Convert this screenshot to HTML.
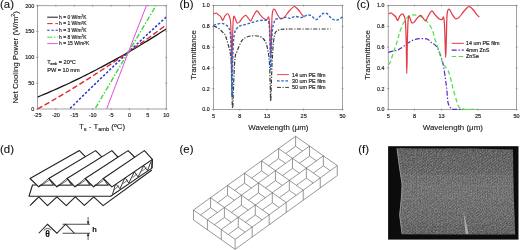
<!DOCTYPE html>
<html><head><meta charset="utf-8"><title>Figure</title>
<style>html,body{margin:0;padding:0;background:#fff;overflow:hidden}svg{display:block}text{font-family:"Liberation Sans",Arial,sans-serif}text{stroke:#1c1c1c;stroke-width:0.12px}.s{stroke:#1c1c1c;stroke-width:0.17px}</style></head>
<body><svg width="520" height="250" viewBox="0 0 520 250">
<rect width="520" height="250" fill="#fff"/>
<clipPath id="ca"><rect x="37.5" y="5.7" width="128.75" height="103.3"/></clipPath>
<rect x="37.5" y="5.7" width="128.75" height="103.3" fill="none" stroke="#8a8a8a" stroke-width="0.8"/>
<path d="M37.50,108.0 v2.2 M37.50,4.7 v2 M55.89,108.0 v2.2 M55.89,4.7 v2 M74.29,108.0 v2.2 M74.29,4.7 v2 M92.68,108.0 v2.2 M92.68,4.7 v2 M111.07,108.0 v2.2 M111.07,4.7 v2 M129.46,108.0 v2.2 M129.46,4.7 v2 M147.86,108.0 v2.2 M147.86,4.7 v2 M166.25,108.0 v2.2 M166.25,4.7 v2 M36.1,109.00 h2.4 M165.25,109.00 h2 M36.1,83.17 h2.4 M165.25,83.17 h2 M36.1,57.35 h2.4 M165.25,57.35 h2 M36.1,31.53 h2.4 M165.25,31.53 h2 M36.1,5.70 h2.4 M165.25,5.70 h2" stroke="#8a8a8a" stroke-width="0.7" fill="none"/>
<g clip-path="url(#ca)" fill="none">
<path d="M37.50,97.12 L40.72,95.79 L43.94,94.44 L47.16,93.07 L50.38,91.68 L53.59,90.27 L56.81,88.85 L60.03,87.40 L63.25,85.93 L66.47,84.45 L69.69,82.95 L72.91,81.42 L76.12,79.88 L79.34,78.32 L82.56,76.74 L85.78,75.14 L89.00,73.52 L92.22,71.89 L95.44,70.23 L98.66,68.55 L101.88,66.86 L105.09,65.14 L108.31,63.41 L111.53,61.66 L114.75,59.89 L117.97,58.10 L121.19,56.29 L124.41,54.46 L127.62,52.61 L130.84,50.74 L134.06,48.86 L137.28,46.95 L140.50,45.03 L143.72,43.08 L146.94,41.12 L150.16,39.14 L153.38,37.14 L156.59,35.12 L159.81,33.08 L163.03,31.02 L166.25,28.94" stroke="#151515" stroke-width="1.25"/>
<path d="M37.50,109.00 L40.72,107.20 L43.94,105.38 L47.16,103.55 L50.38,101.71 L53.59,99.84 L56.81,97.97 L60.03,96.07 L63.25,94.16 L66.47,92.24 L69.69,90.30 L72.91,88.34 L76.12,86.37 L79.34,84.38 L82.56,82.38 L85.78,80.36 L89.00,78.33 L92.22,76.28 L95.44,74.21 L98.66,72.13 L101.88,70.03 L105.09,67.92 L108.31,65.79 L111.53,63.65 L114.75,61.49 L117.97,59.31 L121.19,57.12 L124.41,54.92 L127.62,52.70 L130.84,50.46 L134.06,48.20 L137.28,45.94 L140.50,43.65 L143.72,41.35 L146.94,39.03 L150.16,36.70 L153.38,34.36 L156.59,31.99 L159.81,29.61 L163.03,27.22 L166.25,24.81" stroke="#e0262a" stroke-width="1.4" stroke-dasharray="5.5 2.6"/>
<path d="M37.50,141.05 L40.72,137.79 L43.94,134.53 L47.16,131.29 L50.38,128.06 L53.59,124.83 L56.81,121.61 L60.03,118.40 L63.25,115.20 L66.47,112.00 L69.69,108.82 L72.91,105.64 L76.12,102.47 L79.34,99.31 L82.56,96.16 L85.78,93.01 L89.00,89.88 L92.22,86.75 L95.44,83.63 L98.66,80.52 L101.88,77.41 L105.09,74.32 L108.31,71.23 L111.53,68.15 L114.75,65.08 L117.97,62.02 L121.19,58.96 L124.41,55.92 L127.62,52.88 L130.84,49.85 L134.06,46.83 L137.28,43.81 L140.50,40.81 L143.72,37.81 L146.94,34.82 L150.16,31.84 L153.38,28.87 L156.59,25.91 L159.81,22.95 L163.03,20.00 L166.25,17.06" stroke="#2535c8" stroke-width="1.5" stroke-dasharray="2.4 1.8"/>
<path d="M85.32,125.32 L87.25,122.02 L89.18,118.72 L91.12,115.43 L93.05,112.13 L94.98,108.84 L96.91,105.55 L98.84,102.26 L100.77,98.98 L102.70,95.69 L104.63,92.41 L106.57,89.13 L108.50,85.84 L110.43,82.57 L112.36,79.29 L114.29,76.01 L116.22,72.74 L118.15,69.46 L120.08,66.19 L122.02,62.92 L123.95,59.65 L125.88,56.38 L127.81,53.12 L129.74,49.85 L131.67,46.59 L133.60,43.33 L135.53,40.07 L137.47,36.81 L139.40,33.55 L141.33,30.30 L143.26,27.04 L145.19,23.79 L147.12,20.54 L149.05,17.29 L150.98,14.04 L152.92,10.80 L154.85,7.55 L156.78,4.31 L158.71,1.07 L160.64,-2.17 L162.57,-5.41" stroke="#3cd83c" stroke-width="1.4" stroke-dasharray="5 1.8 1.5 1.8"/>
<path d="M100.04,126.52 L101.42,122.86 L102.79,119.21 L104.17,115.56 L105.55,111.91 L106.93,108.27 L108.31,104.63 L109.69,101.00 L111.07,97.37 L112.45,93.74 L113.83,90.12 L115.21,86.50 L116.59,82.89 L117.97,79.27 L119.35,75.67 L120.73,72.06 L122.11,68.46 L123.49,64.86 L124.87,61.27 L126.25,57.68 L127.62,54.10 L129.00,50.51 L130.38,46.94 L131.76,43.36 L133.14,39.79 L134.52,36.22 L135.90,32.66 L137.28,29.10 L138.66,25.54 L140.04,21.99 L141.42,18.44 L142.80,14.90 L144.18,11.36 L145.56,7.82 L146.94,4.29 L148.32,0.76 L149.70,-2.77 L151.08,-6.29 L152.46,-9.81 L153.83,-13.33 L155.21,-16.84" stroke="#e048e0" stroke-width="1.0"/>
</g>
<text x="37.50" y="117.2" class="s" font-size="5.5" text-anchor="middle" fill="#1c1c1c">-25</text>
<text x="55.89" y="117.2" class="s" font-size="5.5" text-anchor="middle" fill="#1c1c1c">-20</text>
<text x="74.29" y="117.2" class="s" font-size="5.5" text-anchor="middle" fill="#1c1c1c">-15</text>
<text x="92.68" y="117.2" class="s" font-size="5.5" text-anchor="middle" fill="#1c1c1c">-10</text>
<text x="111.07" y="117.2" class="s" font-size="5.5" text-anchor="middle" fill="#1c1c1c">-5</text>
<text x="129.46" y="117.2" class="s" font-size="5.5" text-anchor="middle" fill="#1c1c1c">0</text>
<text x="147.86" y="117.2" class="s" font-size="5.5" text-anchor="middle" fill="#1c1c1c">5</text>
<text x="166.25" y="117.2" class="s" font-size="5.5" text-anchor="middle" fill="#1c1c1c">10</text>
<text x="34.4" y="110.90" class="s" font-size="5.5" text-anchor="end" fill="#1c1c1c">0</text>
<text x="34.4" y="85.08" class="s" font-size="5.5" text-anchor="end" fill="#1c1c1c">50</text>
<text x="34.4" y="59.25" class="s" font-size="5.5" text-anchor="end" fill="#1c1c1c">100</text>
<text x="34.4" y="33.43" class="s" font-size="5.5" text-anchor="end" fill="#1c1c1c">150</text>
<text x="34.4" y="7.60" class="s" font-size="5.5" text-anchor="end" fill="#1c1c1c">200</text>
<text transform="translate(17.6,57.4) rotate(-90) scale(1.075,1)" font-size="7.35" text-anchor="middle" fill="#1c1c1c">Net Cooling Power (W/m<tspan font-size="4.8" dy="-2.6">2</tspan><tspan dy="2.6">)</tspan></text>
<text transform="translate(102,129.2) scale(1.075,1)" font-size="7.35" text-anchor="middle" fill="#1c1c1c">T<tspan font-size="5.2" dy="1.8">s</tspan><tspan dy="-1.8"> - T</tspan><tspan font-size="5.2" dy="1.8">amb</tspan><tspan dy="-1.8"> (</tspan><tspan font-size="4.6" dy="-2.6">o</tspan><tspan dy="2.6">C)</tspan></text>
<text x="0" y="8.0" font-size="11.4" fill="#111">(a)</text>
<path d="M47.2,17.2 H57.9" stroke="#151515" stroke-width="1.0" fill="none"/>
<text x="59.1" y="19.00" class="s" font-size="4.9" fill="#1c1c1c">h = 0 W/m<tspan font-size="3.2" dy="-1.7">2</tspan><tspan dy="1.7">K</tspan></text>
<path d="M47.2,23.6 H57.9" stroke="#e0262a" stroke-width="1.0" stroke-dasharray="5.5 2.6" fill="none"/>
<text x="59.1" y="25.40" class="s" font-size="4.9" fill="#1c1c1c">h = 1 W/m<tspan font-size="3.2" dy="-1.7">2</tspan><tspan dy="1.7">K</tspan></text>
<path d="M47.2,30.3 H57.9" stroke="#2535c8" stroke-width="1.1" stroke-dasharray="2.4 1.8" fill="none"/>
<text x="59.1" y="32.10" class="s" font-size="4.9" fill="#1c1c1c">h = 3 W/m<tspan font-size="3.2" dy="-1.7">2</tspan><tspan dy="1.7">K</tspan></text>
<path d="M47.2,37.2 H57.9" stroke="#3cd83c" stroke-width="1.0" stroke-dasharray="5 1.8 1.5 1.8" fill="none"/>
<text x="59.1" y="39.00" class="s" font-size="4.9" fill="#1c1c1c">h = 8 W/m<tspan font-size="3.2" dy="-1.7">2</tspan><tspan dy="1.7">K</tspan></text>
<path d="M47.2,43.6 H57.9" stroke="#e048e0" stroke-width="0.9" fill="none"/>
<text x="59.1" y="45.40" class="s" font-size="4.9" fill="#1c1c1c">h = 15 W/m<tspan font-size="3.2" dy="-1.7">2</tspan><tspan dy="1.7">K</tspan></text>
<text x="47.2" y="63.6" class="s" font-size="5.6" fill="#1c1c1c">T<tspan font-size="3.4" dy="1.2">amb</tspan><tspan dy="-1.2"> = 20</tspan><tspan font-size="3.4" dy="-1.9">o</tspan><tspan dy="1.9">C</tspan></text>
<text x="47.2" y="71.9" class="s" font-size="5.6" fill="#1c1c1c">PW = 10 mm</text>
<rect x="213.5" y="5.6" width="129.0" height="103.9" fill="none" stroke="#8a8a8a" stroke-width="0.8"/>
<text x="213.50" y="117.5" class="s" font-size="5.5" text-anchor="middle" fill="#1c1c1c">5</text>
<text x="239.83" y="117.5" class="s" font-size="5.5" text-anchor="middle" fill="#1c1c1c">8</text>
<text x="267.03" y="117.5" class="s" font-size="5.5" text-anchor="middle" fill="#1c1c1c">13</text>
<text x="303.67" y="117.5" class="s" font-size="5.5" text-anchor="middle" fill="#1c1c1c">25</text>
<text x="342.50" y="117.5" class="s" font-size="5.5" text-anchor="middle" fill="#1c1c1c">50</text>
<text x="209.7" y="111.35" class="s" font-size="5.3" text-anchor="end" fill="#1c1c1c">0.0</text>
<text x="209.7" y="90.57" class="s" font-size="5.3" text-anchor="end" fill="#1c1c1c">0.2</text>
<text x="209.7" y="69.79" class="s" font-size="5.3" text-anchor="end" fill="#1c1c1c">0.4</text>
<text x="209.7" y="49.01" class="s" font-size="5.3" text-anchor="end" fill="#1c1c1c">0.6</text>
<text x="209.7" y="28.23" class="s" font-size="5.3" text-anchor="end" fill="#1c1c1c">0.8</text>
<text x="209.7" y="7.45" class="s" font-size="5.3" text-anchor="end" fill="#1c1c1c">1.0</text>
<path d="M213.50,108.5 v2.2 M213.50,4.6 v2 M239.83,108.5 v2.2 M239.83,4.6 v2 M267.03,108.5 v2.2 M267.03,4.6 v2 M303.67,108.5 v2.2 M303.67,4.6 v2 M342.50,108.5 v2.2 M342.50,4.6 v2 M212.1,109.50 h2.4 M341.5,109.50 h2 M212.1,88.72 h2.4 M341.5,88.72 h2 M212.1,67.94 h2.4 M341.5,67.94 h2 M212.1,47.16 h2.4 M341.5,47.16 h2 M212.1,26.38 h2.4 M341.5,26.38 h2 M212.1,5.60 h2.4 M341.5,5.60 h2" stroke="#8a8a8a" stroke-width="0.7" fill="none"/>
<text transform="translate(195.6,54.9) rotate(-90) scale(1.07,1)" font-size="7.35" text-anchor="middle" fill="#1c1c1c">Transmittance</text>
<text transform="translate(278.40,129.5) scale(1.07,1)" font-size="7.4" text-anchor="middle" fill="#1c1c1c">Wavelength (μm)</text>
<text x="179.5" y="8.2" font-size="11.4" fill="#111">(b)</text>
<rect x="388.25" y="5.6" width="128.35000000000002" height="103.9" fill="none" stroke="#8a8a8a" stroke-width="0.8"/>
<text x="388.25" y="117.5" class="s" font-size="5.5" text-anchor="middle" fill="#1c1c1c">5</text>
<text x="414.45" y="117.5" class="s" font-size="5.5" text-anchor="middle" fill="#1c1c1c">8</text>
<text x="441.51" y="117.5" class="s" font-size="5.5" text-anchor="middle" fill="#1c1c1c">13</text>
<text x="477.96" y="117.5" class="s" font-size="5.5" text-anchor="middle" fill="#1c1c1c">25</text>
<text x="516.60" y="117.5" class="s" font-size="5.5" text-anchor="middle" fill="#1c1c1c">50</text>
<text x="384.45" y="111.35" class="s" font-size="5.3" text-anchor="end" fill="#1c1c1c">0.0</text>
<text x="384.45" y="90.57" class="s" font-size="5.3" text-anchor="end" fill="#1c1c1c">0.2</text>
<text x="384.45" y="69.79" class="s" font-size="5.3" text-anchor="end" fill="#1c1c1c">0.4</text>
<text x="384.45" y="49.01" class="s" font-size="5.3" text-anchor="end" fill="#1c1c1c">0.6</text>
<text x="384.45" y="28.23" class="s" font-size="5.3" text-anchor="end" fill="#1c1c1c">0.8</text>
<text x="384.45" y="7.45" class="s" font-size="5.3" text-anchor="end" fill="#1c1c1c">1.0</text>
<path d="M388.25,108.5 v2.2 M388.25,4.6 v2 M414.45,108.5 v2.2 M414.45,4.6 v2 M441.51,108.5 v2.2 M441.51,4.6 v2 M477.96,108.5 v2.2 M477.96,4.6 v2 M516.60,108.5 v2.2 M516.60,4.6 v2 M386.85,109.50 h2.4 M515.6,109.50 h2 M386.85,88.72 h2.4 M515.6,88.72 h2 M386.85,67.94 h2.4 M515.6,67.94 h2 M386.85,47.16 h2.4 M515.6,47.16 h2 M386.85,26.38 h2.4 M515.6,26.38 h2 M386.85,5.60 h2.4 M515.6,5.60 h2" stroke="#8a8a8a" stroke-width="0.7" fill="none"/>
<text transform="translate(370.35,54.9) rotate(-90) scale(1.07,1)" font-size="7.35" text-anchor="middle" fill="#1c1c1c">Transmittance</text>
<text transform="translate(452.82,129.5) scale(1.07,1)" font-size="7.4" text-anchor="middle" fill="#1c1c1c">Wavelength (μm)</text>
<text x="356.4" y="8.2" font-size="11.4" fill="#111">(c)</text>
<g fill="none" stroke-linejoin="round">
<path d="M213.50,26.20 C213.75,26.25 214.12,26.13 215.00,26.50 C215.88,26.87 217.50,27.47 218.75,28.40 C220.00,29.33 221.56,31.25 222.50,32.10 C223.44,32.95 223.78,32.52 224.40,33.50 C225.03,34.48 225.63,36.21 226.25,38.00 C226.87,39.79 227.47,41.96 228.10,44.25 C228.72,46.54 229.47,48.79 230.00,51.75 C230.53,54.71 230.93,56.46 231.25,62.00 C231.57,67.54 231.72,77.75 231.90,85.00 C232.08,92.25 232.13,102.08 232.30,105.50 C232.47,108.92 232.68,108.92 232.90,105.50 C233.12,102.08 233.25,92.92 233.60,85.00 C233.95,77.08 234.45,63.54 235.00,58.00 C235.55,52.46 236.17,53.83 236.90,51.75 C237.63,49.67 238.47,47.48 239.40,45.50 C240.33,43.52 241.15,41.36 242.50,39.90 C243.85,38.44 245.62,37.44 247.50,36.75 C249.38,36.06 251.67,35.79 253.75,35.75 C255.83,35.71 258.33,35.92 260.00,36.50 C261.67,37.08 262.71,38.07 263.75,39.25 C264.79,40.43 265.52,41.52 266.25,43.60 C266.98,45.68 267.58,48.68 268.10,51.75 C268.62,54.82 269.05,56.46 269.40,62.00 C269.75,67.54 269.98,78.50 270.20,85.00 C270.42,91.50 270.52,101.00 270.70,101.00 C270.88,101.00 271.05,91.83 271.30,85.00 C271.55,78.17 271.83,67.17 272.20,60.00 C272.57,52.83 273.03,46.43 273.50,42.00 C273.97,37.57 274.43,35.25 275.00,33.40 C275.57,31.55 276.07,31.53 276.90,30.90 C277.73,30.27 279.07,29.88 280.00,29.60 C280.93,29.33 280.83,29.35 282.50,29.25 C284.17,29.15 285.42,29.04 290.00,29.00 C294.58,28.96 303.23,29.00 310.00,29.00 C316.77,29.00 327.17,29.00 330.60,29.00" stroke="#3a3a3a" stroke-width="1.2" stroke-dasharray="4 1.5 1.2 1.5"/>
<path d="M213.50,14.00 C213.96,13.83 215.47,12.90 216.25,13.00 C217.03,13.10 217.47,14.02 218.20,14.60 C218.92,15.18 219.88,15.55 220.60,16.50 C221.32,17.45 221.97,19.97 222.50,20.30 C223.03,20.63 223.38,19.23 223.80,18.50 C224.22,17.77 224.38,16.68 225.00,15.90 C225.62,15.12 226.77,13.70 227.50,13.80 C228.23,13.90 228.88,15.05 229.40,16.50 C229.92,17.95 230.27,17.75 230.60,22.50 C230.93,27.25 231.18,36.50 231.40,45.00 C231.62,53.50 231.73,73.50 231.90,73.50 C232.07,73.50 232.22,53.25 232.40,45.00 C232.58,36.75 232.78,28.75 233.00,24.00 C233.22,19.25 233.42,17.53 233.75,16.50 C234.08,15.47 234.47,16.75 235.00,17.80 C235.53,18.85 236.17,22.08 236.90,22.80 C237.63,23.52 238.47,22.93 239.40,22.10 C240.33,21.27 241.47,18.93 242.50,17.80 C243.53,16.67 244.77,15.42 245.60,15.30 C246.43,15.18 246.67,16.17 247.50,17.10 C248.33,18.03 249.67,21.00 250.60,20.90 C251.53,20.80 252.05,18.17 253.10,16.50 C254.15,14.83 255.75,11.22 256.90,10.90 C258.05,10.58 258.86,13.35 260.00,14.60 C261.14,15.85 262.60,17.57 263.75,18.40 C264.90,19.23 266.09,19.83 266.90,19.60 C267.71,19.37 268.15,16.10 268.60,17.00 C269.05,17.90 269.32,20.33 269.60,25.00 C269.88,29.67 270.10,39.60 270.30,45.00 C270.50,50.40 270.63,57.40 270.80,57.40 C270.97,57.40 271.12,51.23 271.30,45.00 C271.48,38.77 271.68,25.58 271.90,20.00 C272.12,14.42 272.18,13.29 272.60,11.50 C273.02,9.71 273.58,8.73 274.40,9.25 C275.22,9.77 276.47,13.02 277.50,14.60 C278.53,16.18 279.45,18.33 280.60,18.75 C281.75,19.17 283.04,18.31 284.40,17.10 C285.76,15.89 287.30,13.17 288.75,11.50 C290.20,9.83 292.06,7.89 293.10,7.10 C294.14,6.31 294.06,6.22 295.00,6.75 C295.94,7.28 297.60,8.94 298.75,10.25 C299.90,11.56 300.96,13.46 301.90,14.60 C302.84,15.74 303.98,16.68 304.40,17.10" stroke="#e23a48" stroke-width="1.15"/>
<path d="M213.50,25.30 C214.17,25.08 216.10,24.32 217.50,24.00 C218.90,23.68 220.44,23.19 221.90,23.40 C223.36,23.61 225.11,24.52 226.25,25.25 C227.39,25.98 228.06,26.29 228.75,27.75 C229.44,29.21 229.97,28.62 230.40,34.00 C230.83,39.38 231.03,49.50 231.30,60.00 C231.57,70.50 231.77,97.00 232.00,97.00 C232.23,97.00 232.43,69.50 232.70,60.00 C232.97,50.50 233.22,44.75 233.60,40.00 C233.98,35.25 234.45,33.43 235.00,31.50 C235.55,29.57 236.07,29.33 236.90,28.40 C237.73,27.47 238.65,26.53 240.00,25.90 C241.35,25.27 243.12,25.12 245.00,24.60 C246.88,24.08 249.17,23.37 251.25,22.75 C253.33,22.13 255.42,21.32 257.50,20.90 C259.58,20.48 262.08,20.25 263.75,20.25 C265.42,20.25 266.57,19.94 267.50,20.90 C268.43,21.86 268.85,21.15 269.30,26.00 C269.75,30.85 269.97,42.75 270.20,50.00 C270.43,57.25 270.52,69.50 270.70,69.50 C270.88,69.50 271.02,56.58 271.30,50.00 C271.58,43.42 271.88,34.75 272.40,30.00 C272.92,25.25 273.76,23.33 274.40,21.50 C275.04,19.67 275.11,19.52 276.25,19.00 C277.39,18.48 279.58,18.72 281.25,18.40 C282.92,18.08 284.79,17.10 286.25,17.10 C287.71,17.10 288.54,18.50 290.00,18.40 C291.46,18.30 293.12,16.65 295.00,16.50 C296.88,16.35 299.68,17.54 301.25,17.50 C302.82,17.46 303.36,16.67 304.40,16.25 C305.44,15.83 306.36,15.11 307.50,15.00 C308.64,14.89 310.10,14.97 311.25,15.60 C312.40,16.23 313.46,18.12 314.40,18.75 C315.34,19.38 315.97,19.82 316.90,19.40 C317.83,18.98 318.97,17.23 320.00,16.25 C321.03,15.27 321.95,13.96 323.10,13.50 C324.25,13.04 325.75,12.93 326.90,13.50 C328.05,14.07 328.97,15.92 330.00,16.90 C331.03,17.88 331.95,18.88 333.10,19.40 C334.25,19.92 335.75,20.11 336.90,20.00 C338.05,19.89 339.07,19.27 340.00,18.75 C340.93,18.23 342.08,17.21 342.50,16.90" stroke="#2a66c4" stroke-width="1.4" stroke-dasharray="2.6 1.7"/>
</g>
<path d="M277,74.6 H288.9" stroke="#e23a48" stroke-width="0.9" fill="none"/>
<text x="292" y="76.50" class="s" font-size="5.4" fill="#1c1c1c">14 um PE film</text>
<path d="M277,80.9 H288.9" stroke="#2a66c4" stroke-width="1.1" stroke-dasharray="2.6 1.6" fill="none"/>
<text x="292" y="82.80" class="s" font-size="5.4" fill="#1c1c1c">30 um PE film</text>
<path d="M277,87.4 H288.9" stroke="#3a3a3a" stroke-width="1.0" stroke-dasharray="4 1.5 1.2 1.5" fill="none"/>
<text x="292" y="89.30" class="s" font-size="5.4" fill="#1c1c1c">50 um PE film</text>
<g fill="none" stroke-linejoin="round">
<path d="M388.25,52.40 C388.96,52.18 390.96,51.47 392.50,51.10 C394.04,50.73 396.04,50.72 397.50,50.20 C398.96,49.68 399.90,48.88 401.25,48.00 C402.60,47.12 404.14,45.94 405.60,44.90 C407.06,43.86 408.43,42.65 410.00,41.75 C411.57,40.85 413.12,40.02 415.00,39.50 C416.88,38.98 419.17,38.64 421.25,38.60 C423.33,38.56 425.83,38.62 427.50,39.25 C429.17,39.88 430.00,41.46 431.25,42.40 C432.50,43.34 433.86,43.76 435.00,44.90 C436.14,46.04 437.17,47.48 438.10,49.25 C439.03,51.02 439.87,53.42 440.60,55.50 C441.33,57.58 441.98,59.75 442.50,61.75 C443.02,63.75 443.28,64.79 443.75,67.50 C444.22,70.21 444.88,75.08 445.30,78.00 C445.72,80.92 445.98,82.90 446.25,85.00 C446.52,87.10 446.69,88.43 446.90,90.60 C447.11,92.77 447.30,95.93 447.50,98.00 C447.70,100.07 447.78,101.65 448.10,103.00 C448.42,104.35 448.77,105.12 449.40,106.10 C450.03,107.08 450.80,108.37 451.90,108.90 C453.00,109.43 454.02,109.23 456.00,109.30 C457.98,109.37 462.46,109.30 463.75,109.30" stroke="#5a28c4" stroke-width="1.2" stroke-dasharray="5 1.8 1.4 1.8"/>
<path d="M388.25,64.40 C388.54,64.17 389.29,64.48 390.00,63.00 C390.71,61.52 391.67,58.00 392.50,55.50 C393.33,53.00 394.17,50.50 395.00,48.00 C395.83,45.50 396.88,42.58 397.50,40.50 C398.12,38.42 398.23,37.32 398.75,35.50 C399.27,33.68 399.66,31.93 400.60,29.60 C401.54,27.27 403.04,23.78 404.40,21.50 C405.76,19.22 407.50,16.98 408.75,15.90 C410.00,14.82 410.69,15.12 411.90,15.00 C413.11,14.88 414.65,15.05 416.00,15.20 C417.35,15.35 418.71,15.27 420.00,15.90 C421.29,16.53 422.40,17.86 423.75,19.00 C425.10,20.14 426.64,20.88 428.10,22.75 C429.56,24.62 431.45,27.81 432.50,30.25 C433.55,32.69 433.77,35.27 434.40,37.40 C435.02,39.52 435.63,41.13 436.25,43.00 C436.87,44.87 437.48,46.62 438.10,48.60 C438.73,50.58 439.37,52.92 440.00,54.90 C440.63,56.88 441.27,58.82 441.90,60.50 C442.52,62.18 442.82,63.52 443.75,65.00 C444.68,66.48 446.46,67.53 447.50,69.40 C448.54,71.28 449.27,73.86 450.00,76.25 C450.73,78.64 451.38,81.67 451.90,83.75 C452.42,85.83 452.58,86.79 453.10,88.75 C453.62,90.71 454.37,93.33 455.00,95.50 C455.63,97.67 456.38,100.08 456.90,101.75 C457.42,103.42 457.58,104.46 458.10,105.50 C458.62,106.54 459.02,107.37 460.00,108.00 C460.98,108.63 460.98,109.08 464.00,109.30 C467.02,109.52 475.75,109.30 478.10,109.30" stroke="#4ce04c" stroke-width="1.25" stroke-dasharray="4.5 2.6"/>
<path d="M388.40,14.00 C388.86,13.83 390.37,12.90 391.15,13.00 C391.93,13.10 392.38,14.02 393.10,14.60 C393.83,15.18 394.78,15.55 395.50,16.50 C396.22,17.45 396.87,19.97 397.40,20.30 C397.93,20.63 398.28,19.23 398.70,18.50 C399.12,17.77 399.28,16.68 399.90,15.90 C400.52,15.12 401.67,13.70 402.40,13.80 C403.13,13.90 403.78,15.05 404.30,16.50 C404.82,17.95 405.17,17.75 405.50,22.50 C405.83,27.25 406.08,36.50 406.30,45.00 C406.52,53.50 406.63,73.50 406.80,73.50 C406.97,73.50 407.12,53.25 407.30,45.00 C407.48,36.75 407.67,28.75 407.90,24.00 C408.12,19.25 408.32,17.53 408.65,16.50 C408.98,15.47 409.38,16.75 409.90,17.80 C410.42,18.85 411.07,22.08 411.80,22.80 C412.53,23.52 413.37,22.93 414.30,22.10 C415.23,21.27 416.37,18.93 417.40,17.80 C418.43,16.67 419.67,15.42 420.50,15.30 C421.33,15.18 421.57,16.17 422.40,17.10 C423.23,18.03 424.57,21.00 425.50,20.90 C426.43,20.80 426.95,18.17 428.00,16.50 C429.05,14.83 430.65,11.22 431.80,10.90 C432.95,10.58 433.76,13.35 434.90,14.60 C436.04,15.85 437.50,17.57 438.65,18.40 C439.80,19.23 440.99,19.83 441.80,19.60 C442.61,19.37 443.05,16.10 443.50,17.00 C443.95,17.90 444.22,20.33 444.50,25.00 C444.78,29.67 445.00,39.60 445.20,45.00 C445.40,50.40 445.53,57.40 445.70,57.40 C445.87,57.40 446.02,51.23 446.20,45.00 C446.38,38.77 446.58,25.58 446.80,20.00 C447.02,14.42 447.08,13.29 447.50,11.50 C447.92,9.71 448.48,8.73 449.30,9.25 C450.12,9.77 451.37,13.02 452.40,14.60 C453.43,16.18 454.35,18.33 455.50,18.75 C456.65,19.17 457.94,18.31 459.30,17.10 C460.66,15.89 462.20,13.17 463.65,11.50 C465.10,9.83 466.96,7.89 468.00,7.10 C469.04,6.31 468.96,6.22 469.90,6.75 C470.84,7.28 472.50,8.94 473.65,10.25 C474.80,11.56 475.86,13.46 476.80,14.60 C477.74,15.74 478.88,16.68 479.30,17.10" stroke="#e23a48" stroke-width="1.25"/>
</g>
<path d="M451.7,43.3 H463.8" stroke="#e23a48" stroke-width="1.0" fill="none"/>
<text x="466" y="45.20" class="s" font-size="5.4" fill="#1c1c1c">14 um PE film</text>
<path d="M451.7,50.1 H463.8" stroke="#5a28c4" stroke-width="1.1" stroke-dasharray="5 1.8 1.4 1.8" fill="none"/>
<text x="466" y="52.00" class="s" font-size="5.4" fill="#1c1c1c">4mm ZnS</text>
<path d="M451.7,56.5 H463.8" stroke="#4ce04c" stroke-width="1.2" stroke-dasharray="4.5 2.5" fill="none"/>
<text x="466" y="58.40" class="s" font-size="5.4" fill="#1c1c1c">ZnSe</text>
<text x="0" y="152.8" font-size="11.4" fill="#111">(d)</text>
<g fill="#fff" stroke="#202020" stroke-width="1.1" stroke-linejoin="round">
<path d="M30,205.6 L38.75,196.9 L47.5,205.6 L56.9,196.9 L66.25,205.6 L75.3,196.9 L84.4,205.3 L93.75,196.9 L103.1,205.6 L151.9,170" fill="none"/>
<path d="M31.5,203.6 L37.6,198.6" fill="none" stroke-width="0.5"/>
<path d="M32.5,185 L29,196.25 L110.6,196.25 L151.9,168.1 L152.3,159.4 L111.9,186.25 L111.9,185 Z"/>
<path d="M112.5,194.4 L115.6,183.75 L120,188.75 L125,177.5 L128.75,183.1 L134.4,171.9 L138.1,176.9 L143.75,165.6 L147.5,170.6 L151,161.5" fill="none" stroke-width="0.9"/>
<path d="M114,190 L119,185.5 M123.2,183.6 L127.8,180 M132.5,177.6 L137.2,173.8 M141.8,171.4 L146.6,167.6" fill="none" stroke-width="0.6"/>
<path d="M30,178.5 L79.4,150.6 L85.6,156.8 L38.75,186.9 Z"/>
<path d="M38.75,186.9 L48.75,178.4 L53.15,185 L39.95,185 Z" stroke-width="0.8"/>
<path d="M41.95,185 L48.95,180.3" fill="none" stroke-width="0.65"/>
<path d="M48.75,178.5 L95.6,150.6 L101.9,156.9 L56.9,186.9 Z"/>
<path d="M56.9,186.9 L67,178.4 L71.4,185 L58.1,185 Z" stroke-width="0.8"/>
<path d="M60.1,185 L67.2,180.3" fill="none" stroke-width="0.65"/>
<path d="M67,178.5 L111.9,150.6 L118.1,157.25 L75,186.9 Z"/>
<path d="M75,186.9 L85.2,178.4 L89.60000000000001,185 L76.2,185 Z" stroke-width="0.8"/>
<path d="M78.2,185 L85.4,180.3" fill="none" stroke-width="0.65"/>
<path d="M85.2,178.5 L128.1,150.6 L135,157.5 L93.5,186.9 Z"/>
<path d="M93.5,186.9 L103.3,178.4 L107.7,185 L94.7,185 Z" stroke-width="0.8"/>
<path d="M96.7,185 L103.5,180.3" fill="none" stroke-width="0.65"/>
<path d="M103.3,178.5 L144.4,150.6 L152.4,159.4 L111.9,186.9 Z"/>
<path d="M152.4,159.4 L151.9,168.1" fill="none"/>
</g>
<g fill="none" stroke="#202020" stroke-width="1.05">
<path d="M38.75,233.25 L47.5,224.25 L56.9,233.25 L65.6,224.25 L74.4,233.25"/>
<path d="M62.5,224.25 H90 M62.5,233.25 H90" stroke-width="0.8"/>
<path d="M88.1,217 V224.25 M88.1,233.25 V240.1" stroke-width="0.7"/>
<path d="M88.1,224.1 l-1,-2.6 h2 Z M88.1,233.4 l-1,2.6 h2 Z" fill="#262626" stroke-width="0.3"/>
<path d="M43.8,230.4 Q47.5,226.4 51.2,230.4" stroke-width="0.75"/>
</g>
<text x="47.5" y="236.5" font-size="8.6" font-weight="bold" text-anchor="middle" fill="#111">θ</text>
<text x="92.2" y="231.8" font-size="7.4" font-weight="bold" fill="#111">h</text>
<text x="179.5" y="152.8" font-size="11.4" fill="#111">(e)</text>
<path d="M193.50,210.00 L295.62,136.26 M207.38,219.78 L309.50,146.04 M221.26,229.56 L323.38,155.82 M235.14,239.34 L337.26,165.60 M193.50,210.00 L235.14,239.34 M210.52,197.71 L252.16,227.05 M227.54,185.42 L269.18,214.76 M244.56,173.13 L286.20,202.47 M261.58,160.84 L303.22,190.18 M278.60,148.55 L320.24,177.89 M295.62,136.26 L337.26,165.60 M210.52,197.71 L210.52,207.71 M210.52,207.71 L200.51,214.94 M210.52,207.71 L217.39,212.55 M227.54,185.42 L227.54,195.42 M227.54,195.42 L217.53,202.65 M227.54,195.42 L234.41,200.26 M244.56,173.13 L244.56,183.13 M244.56,183.13 L234.55,190.36 M244.56,183.13 L251.43,187.97 M261.58,160.84 L261.58,170.84 M261.58,170.84 L251.57,178.07 M261.58,170.84 L268.45,175.68 M278.60,148.55 L278.60,158.55 M278.60,158.55 L268.59,165.78 M278.60,158.55 L285.47,163.39 M295.62,136.26 L295.62,146.26 M295.62,146.26 L285.61,153.49 M295.62,146.26 L302.49,151.10 M224.40,207.49 L224.40,217.49 M224.40,217.49 L214.39,224.72 M224.40,217.49 L231.27,222.33 M241.42,195.20 L241.42,205.20 M241.42,205.20 L231.41,212.43 M241.42,205.20 L248.29,210.04 M258.44,182.91 L258.44,192.91 M258.44,192.91 L248.43,200.14 M258.44,192.91 L265.31,197.75 M275.46,170.62 L275.46,180.62 M275.46,180.62 L265.45,187.85 M275.46,180.62 L282.33,185.46 M292.48,158.33 L292.48,168.33 M292.48,168.33 L282.47,175.56 M292.48,168.33 L299.35,173.17 M309.50,146.04 L309.50,156.04 M309.50,156.04 L299.49,163.27 M309.50,156.04 L316.37,160.88 M238.28,217.27 L238.28,227.27 M238.28,227.27 L228.27,234.50 M238.28,227.27 L245.15,232.11 M255.30,204.98 L255.30,214.98 M255.30,214.98 L245.29,222.21 M255.30,214.98 L262.17,219.82 M272.32,192.69 L272.32,202.69 M272.32,202.69 L262.31,209.92 M272.32,202.69 L279.19,207.53 M289.34,180.40 L289.34,190.40 M289.34,190.40 L279.33,197.63 M289.34,190.40 L296.21,195.24 M306.36,168.11 L306.36,178.11 M306.36,178.11 L296.35,185.34 M306.36,178.11 L313.23,182.95 M323.38,155.82 L323.38,165.82 M323.38,165.82 L313.37,173.05 M323.38,165.82 L330.25,170.66 M193.50,210.00 L193.50,220.00 M207.38,219.78 L207.38,229.78 M221.26,229.56 L221.26,239.56 M235.14,239.34 L235.14,249.34 M252.16,227.05 L252.16,237.05 M269.18,214.76 L269.18,224.76 M286.20,202.47 L286.20,212.47 M303.22,190.18 L303.22,200.18 M320.24,177.89 L320.24,187.89 M337.26,165.60 L337.26,175.60 M193.50,220.00 L235.14,249.34 M235.14,249.34 L337.26,175.60" fill="none" stroke="#6c6c6c" stroke-width="0.7"/>
<text x="358.2" y="152.8" font-size="11.4" fill="#111">(f)</text>
<rect x="388.1" y="146.2" width="130.4" height="93.4" fill="#0c0c0c"/>
<defs><filter id="nz" x="0" y="0" width="100%" height="100%"><feTurbulence type="fractalNoise" baseFrequency="0.8 0.6" numOctaves="2" seed="3" result="n"/><feColorMatrix in="n" type="matrix" values="0 0 0 0 1  0 0 0 0 1  0 0 0 0 1  1.8 1.8 0 0 -1.35"/><feComposite operator="in" in2="SourceGraphic"/></filter>
<linearGradient id="mg" x1="0" y1="0" x2="0" y2="1"><stop offset="0" stop-color="#3e3e3e"/><stop offset="0.05" stop-color="#4a4a4a"/><stop offset="0.25" stop-color="#4e4e4e"/><stop offset="0.45" stop-color="#585858"/><stop offset="0.65" stop-color="#5a5a5a"/><stop offset="0.85" stop-color="#525252"/><stop offset="1" stop-color="#464646"/></linearGradient>
<pattern id="hx" width="2.2" height="2.2" patternUnits="userSpaceOnUse" patternTransform="rotate(-38)"><rect width="2.2" height="2.2" fill="none"/><path d="M0,0.5 H2.2" stroke="#a8a8a8" stroke-width="0.55"/><path d="M0.5,0 V2.2" stroke="#4a4a4a" stroke-width="0.45"/></pattern>
<pattern id="vx" width="1.7" height="1.7" patternUnits="userSpaceOnUse"><path d="M0.4,0 V1.7" stroke="#9c9c9c" stroke-width="0.45"/><path d="M0,0.4 H1.7" stroke="#505050" stroke-width="0.4"/></pattern></defs>
<path d="M396.8,148 L420,148.6 L470,148.4 L513,149.6 L513.5,190 L515.2,234.4 L470,234.5 L402,234.2 L399.5,215 L401,200 L402,185 L399,165 Z" fill="url(#mg)"/>
<path d="M396.8,148 L420,148.6 L470,148.4 L513,149.6 L513.5,190 L515.2,234.4 L470,234.5 L402,234.2 L399.5,215 L401,200 L402,185 L399,165 Z" fill="url(#hx)" opacity="0.55"/>
<path d="M401,176 H513.5 V200 H401 Z" fill="url(#vx)" opacity="0.45"/>
<path d="M396.8,148 L420,148.6 L470,148.4 L513,149.6 L513.5,190 L515.2,234.4 L470,234.5 L402,234.2 L399.5,215 L401,200 L402,185 L399,165 Z" fill="#fff" filter="url(#nz)" opacity="0.22"/>
<path d="M463.3,210 L465.6,234 L468.6,234 Z" fill="#c0c0c0" opacity="0.75"/>
<path d="M397,148.5 L399.2,165 L402.2,185 L401.2,200 L399.7,215 L402,234" fill="none" stroke="#9a9a9a" stroke-width="0.9"/>
<path d="M401,175.6 H513 M401.5,186 H513.5" fill="none" stroke="#8c8c8c" stroke-width="0.5" opacity="0.7"/>
</svg></body></html>
